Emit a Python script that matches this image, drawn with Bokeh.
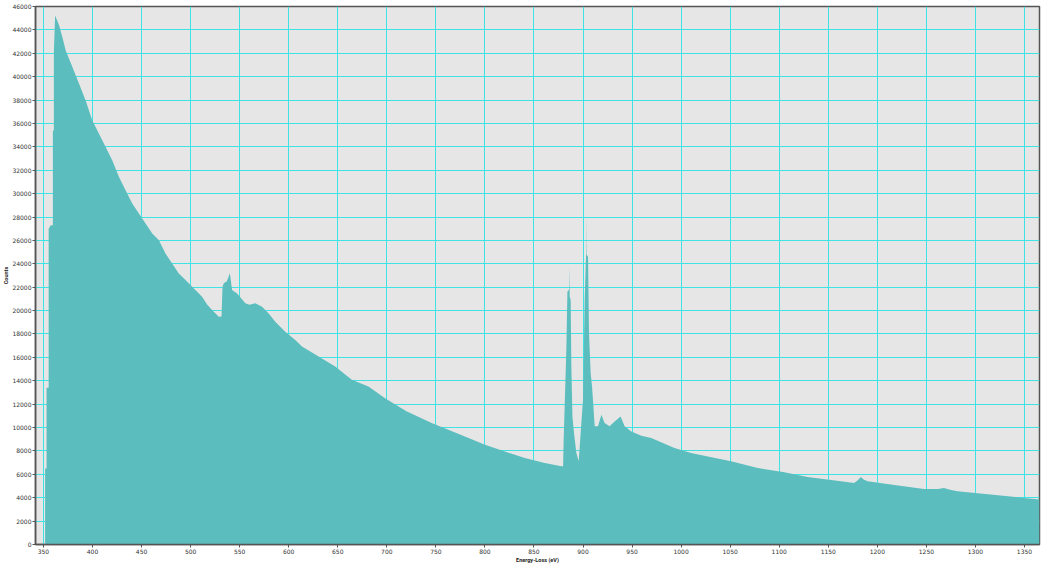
from bokeh.plotting import figure
from bokeh.models import Range1d, SingleIntervalTicker
from bokeh.embed import file_html
from bokeh.resources import INLINE

# Energy-loss (eV) and counts
energy = [351.7, 351.7, 353.2, 353.2, 355.3, 355.3, 357.5, 359.6, 359.6, 360.6, 360.6, 361.9,
          364, 366, 369.3, 372.7, 379.5, 386.3, 393, 399.8, 406.6, 413.4, 420.2, 427, 433.7,
          440.5, 447.3, 454.1, 460.9, 467.7, 474.4, 481.2, 488, 494.8, 501.6, 508.4, 511.7,
          517, 521.9, 528.7, 531.5, 532.5, 533.8, 537, 540, 542.3, 547.4, 555.8, 560, 566,
          572.8, 579.6, 586.3, 596.5, 606.7, 613.5, 630.5, 647.4, 664.3, 681.3, 698.2, 720,
          745.7, 762.7, 779.6, 800, 820.3, 840.6, 861, 878, 879.7, 880.3, 883, 884.1, 885.8,
          886.1, 886.4, 887.4, 888.1, 889.2, 890.8, 893.2, 895.6, 897.6, 900, 901.7, 903.1,
          903.6, 903.8, 904.0, 905.1, 906.1, 907.8, 909.2, 911.9, 915.3, 918.7, 922, 927.1,
          932.2, 938.3, 942.4, 949.2, 959.4, 969.5, 993.2, 1010.2, 1027.2, 1050.9, 1078.1,
          1105.2, 1128.9, 1162.8, 1176.3, 1180, 1183.2, 1186, 1190, 1213.7, 1247.6, 1262,
          1267.9, 1274, 1281.5, 1315.4, 1349.3, 1365.3]
counts = [0, 6500, 6500, 13400, 13400, 27000, 27300, 27300, 35400, 35400, 42000, 45230,
          44800, 44370, 43380, 42240, 40820, 39400, 37970, 36260, 35130, 33980, 32840, 31420, 30290,
          29150, 28300, 27440, 26590, 26020, 24880, 24030, 23180, 22610, 22040, 21470, 21180,
          20500, 20050, 19480, 19500, 22000, 22330, 22500, 23200, 21760, 21470, 20620, 20500, 20620,
          20330, 19760, 19050, 18200, 17490, 16920, 16070, 15210, 14080, 13500, 12510, 11400,
          10380, 9810, 9240, 8530, 7960, 7390, 6970, 6680, 6700, 9000, 16640, 21610, 21800,
          23740, 21200, 20900, 15210, 10950, 9530, 7820, 7110, 9530, 12370, 20900, 24750,
          24800, 28160, 24700, 24600, 18060, 14650, 13500, 10100, 10100, 11090, 10380, 10100,
          10520, 10950, 10100, 9670, 9300, 9100, 8250, 7820, 7530, 7110, 6540,
          6170, 5770, 5400, 5260, 5500, 5770, 5550, 5400, 5120, 4750, 4750,
          4840, 4680, 4550, 4270, 3980, 3840]

x_tick_step = 50
y_tick_step = 2000

p = figure(width=1042, height=565, output_backend="svg", toolbar_location=None,
           x_range=Range1d(341.9, 1365.3), y_range=Range1d(0, 46000),
           background_fill_color="#E6E6E6", border_fill_color="white",
           min_border_left=0, min_border_right=3, min_border_top=6, min_border_bottom=0)

p.varea(x=energy, y1=0, y2=counts, fill_color="#5BBDBD")

p.xaxis.ticker = SingleIntervalTicker(interval=x_tick_step)
p.yaxis.ticker = SingleIntervalTicker(interval=y_tick_step)
p.xgrid.ticker = SingleIntervalTicker(interval=x_tick_step)
p.ygrid.ticker = SingleIntervalTicker(interval=y_tick_step)
for g in (p.xgrid, p.ygrid):
    g.grid_line_color = "#3FE3E3"
    g.grid_line_width = 1
    g.grid_line_alpha = 1

p.outline_line_color = "#555555"
p.outline_line_width = 1.5

for ax in (p.xaxis, p.yaxis):
    ax.axis_line_color = "#555555"
    ax.axis_line_width = 1.5
    ax.major_tick_line_color = "#555555"
    ax.major_tick_out = 3
    ax.major_tick_in = 0
    ax.minor_tick_line_color = None
    ax.major_label_text_font = "DejaVu Sans"
    ax.major_label_text_font_size = "6px"
    ax.major_label_text_color = "#333333"
    ax.major_label_standoff = 0
    ax.axis_label_text_font = "Roboto"
    ax.axis_label_text_font_size = "5.5px"
    ax.axis_label_text_font_style = "bold"
    ax.axis_label_text_color = "#222222"
    ax.axis_label_standoff = 0

p.xaxis.axis_label = "Energy-Loss (eV)"
p.yaxis.axis_label = "Counts"

open("out.html", "w").write(file_html(p, INLINE))
